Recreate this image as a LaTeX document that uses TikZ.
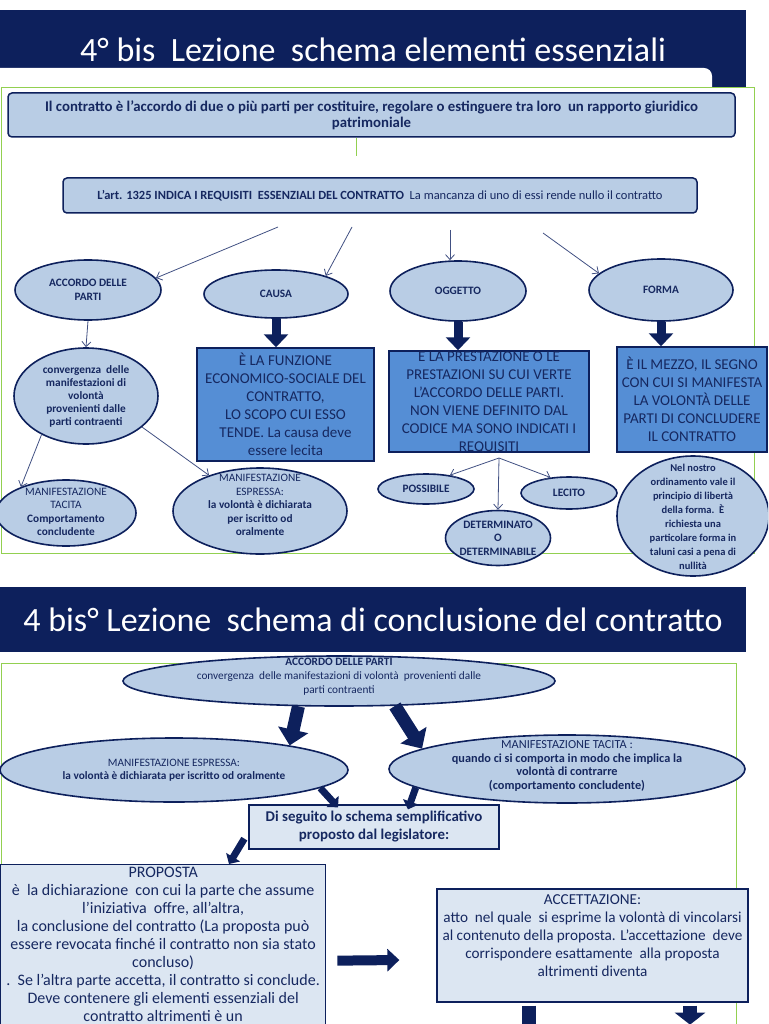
\documentclass[tikz,border=0pt]{standalone}
\usepackage{fontspec}
\setmainfont{Carlito}
\usetikzlibrary{shapes.geometric,arrows.meta,positioning}
\definecolor{navy}{RGB}{13,32,92}
\definecolor{txt}{RGB}{22,40,96}
\definecolor{pale}{RGB}{185,205,229}
\definecolor{paler}{RGB}{220,230,242}
\definecolor{midblue}{RGB}{85,142,213}
\definecolor{frame}{RGB}{146,208,80}
\definecolor{arrowgray}{RGB}{65,80,130}

\begin{document}
\begin{tikzpicture}[x=1pt,y=-1pt,
  heading/.style={text=white,inner sep=0pt,font=\fontsize{34}{40}\selectfont},
  lightbox/.style={draw=navy,line width=1.5pt,fill=pale,rounded corners=4pt,text=txt,align=center,inner sep=0pt},
  boxtext/.style={text=txt,align=center,inner sep=0pt,font=\fontsize{15}{18}\selectfont},
  darkbox/.style={boxtext,draw=navy,line width=1.5pt,fill=midblue},
  plainbox/.style={draw=navy,line width=1.3pt,fill=paler,text=txt,align=center,inner sep=0pt},
  plaintext/.style={text=txt,align=center,inner sep=0pt,font=\fontsize{15.2}{18}\selectfont},
  oval/.style={ellipse,draw=navy,line width=1.6pt,fill=pale,inner sep=0pt,text=txt,align=center,font=\fontsize{11.3}{13.5}\selectfont\bfseries},
  ovaltext/.style={text=txt,align=center,inner sep=0pt,font=\fontsize{11.3}{13.5}\selectfont\bfseries},
  thinarrow/.style={draw=arrowgray,line width=0.8pt,-{Straight Barb[length=5pt,width=9pt]}},
  blockarrow/.style n args={3}{draw=navy,line width=#1,-{Triangle[width=#2,length=#3]}},
]
  \useasboundingbox (0,0) rectangle (768,1024);
  \clip (0,0) rectangle (768,1024);

  \fill[navy] (0,10) rectangle (746,88);
  \fill[white,rounded corners=8pt] (-10,68) rectangle (712,110);
  \node[heading] (title1) at (373,50) {4° bis\ \ Lezione\ \ schema elementi essenziali};
  \draw[frame,line width=1pt] (1,88) rectangle (754,553);

  \node[lightbox,minimum width=727pt,minimum height=44pt,font=\fontsize{14.8}{16}\selectfont\bfseries] (def) at (371.5,115)
    {Il contratto è l’accordo di due o più parti per costituire, regolare o estinguere tra loro\ \ un rapporto giuridico\\patrimoniale};
  \draw[frame,line width=1pt] ([xshift=-15.5pt]def.south) -- ++(0,18);
  \node[lightbox,minimum width=634pt,minimum height=35pt,font=\fontsize{12.5}{14}\selectfont] (art) at (380,195.5)
    {\textbf{L’art. 1325 INDICA I REQUISITI\ \ ESSENZIALI DEL CONTRATTO}\ \ La mancanza di uno di essi rende nullo il contratto};

  \node[oval,minimum width=146pt,minimum height=60pt] (accordo) at (88,290) {ACCORDO DELLE\\PARTI};
  \node[oval,minimum width=144pt,minimum height=48pt] (causa) at (276,294) {CAUSA};
  \node[oval,minimum width=136pt,minimum height=60pt] (oggetto) at (458,291) {OGGETTO};
  \node[oval,minimum width=144pt,minimum height=62pt] (forma) at (661,290) {FORMA};

  \coordinate (p1) at (278,227);
  \coordinate (p2) at (352,227);
  \coordinate (p3) at (450,230);
  \coordinate (p4) at (543,233);
  \draw[thinarrow] (p1) -- (accordo.10);
  \draw[thinarrow] (p2) -- (causa.20);
  \draw[thinarrow] (p3) -- (p3 |- oggetto.north);
  \draw[thinarrow] (p4) -- (forma.165);

  \node[darkbox,minimum width=177pt,minimum height=113pt] (causabox) at (285.5,404.5)
    {È LA FUNZIONE\\ECONOMICO-SOCIALE DEL\\CONTRATTO,\\LO SCOPO CUI ESSO\\TENDE. La causa deve\\essere lecita};
  \node[darkbox,minimum width=200pt,minimum height=101pt] (oggbox) at (489,401.5) {};
  \node[boxtext] (oggboxT) at (489,403)
    {E LA PRESTAZIONE O LE\\PRESTAZIONI SU CUI VERTE\\L’ACCORDO DELLE PARTI.\\NON VIENE DEFINITO DAL\\CODICE MA SONO INDICATI I\\REQUISITI};
  \node[darkbox,minimum width=150pt,minimum height=105pt] (formabox) at (692,399.5)
    {È IL MEZZO, IL SEGNO\\CON CUI SI MANIFESTA\\LA VOLONTÀ DELLE\\PARTI DI CONCLUDERE\\IL CONTRATTO};

  \foreach \src/\dst in {causa/causabox, oggetto/oggbox, forma/formabox}
    \draw[blockarrow={9pt}{24pt}{13pt}] (\src.south) -- (\src.south |- \dst.north);

  \node[oval,minimum width=144pt,minimum height=96pt,font=\fontsize{11.3}{13}\selectfont\bfseries] (conv) at (86,396)
    {convergenza\ \ delle\\manifestazioni di\\volontà\\provenienti dalle\\parti contraenti};
  \draw[thinarrow] (accordo.south) -- (conv.north);

  \node[oval,minimum width=140pt,minimum height=66pt] (tacita) at (66,513) {};
  \node[ovaltext] (tacitaT) at (66,512) {{\mdseries MANIFESTAZIONE}\\{\mdseries TACITA}\\Comportamento\\concludente};
  \node[oval,minimum width=174pt,minimum height=86pt] (espressa) at (260,511) {};
  \node[ovaltext] (espressaT) at (260,505) {{\mdseries MANIFESTAZIONE}\\{\mdseries ESPRESSA:}\\la volontà è dichiarata\\per iscritto od\\oralmente};
  \draw[thinarrow] (conv.221) -- (tacita.150);
  \draw[thinarrow] (conv.-29) -- (espressa.145);

  \node[oval,minimum width=96pt,minimum height=30pt] (possibile) at (426,489) {POSSIBILE};
  \node[oval,minimum width=96pt,minimum height=32pt] (lecito) at (569,493) {LECITO};
  \node[oval,minimum width=105pt,minimum height=55pt] (determ) at (498,538) {};
  \node[ovaltext] (determT) at (498,538) {DETERMINATO\\O\\DETERMINABILE};
  \coordinate (fan) at (499,458);
  \foreach \t in {possibile.30, determ.north, lecito.140}
    \draw[thinarrow] (fan) -- (\t);

  \node[oval,minimum width=152pt,minimum height=120pt] (liberta) at (693,516) {};
  \node[ovaltext,font=\fontsize{10.5}{14}\selectfont\bfseries] (libertaT) at (693,517)
    {Nel nostro\\ordinamento vale il\\principio di libertà\\della forma.\ \ È\\richiesta una\\particolare forma in\\taluni casi a pena di\\nullità};

  \fill[navy] (0,587) rectangle (746,652);
  \node[heading] (title2) at (373,620) {4 bis° Lezione\ \ schema di conclusione del contratto};
  \draw[frame,line width=1pt] (1,1030) -- (1,663) -- (736,663) -- (736,1030);

  \node[oval,minimum width=432pt,minimum height=50pt] (accordo2) at (339,681) {};
  \node[ovaltext,font=\fontsize{11.3}{14}\selectfont\bfseries] (accordo2T) at (339,677)
    {ACCORDO DELLE PARTI\\{\mdseries convergenza\ \ delle manifestazioni di volontà\ \ provenienti dalle}\\{\mdseries parti contraenti}};
  \node[oval,minimum width=348pt,minimum height=64pt] (espressa2) at (174,770)
    {{\mdseries MANIFESTAZIONE ESPRESSA:}\\la volontà è dichiarata per iscritto od oralmente};
  \node[oval,minimum width=356pt,minimum height=68pt] (tacita2) at (567,769) {};
  \node[ovaltext,font=\fontsize{12.3}{13.5}\selectfont\bfseries] (tacita2T) at (567,766)
    {{\mdseries MANIFESTAZIONE TACITA :}\\quando ci si comporta in modo che implica la\\volontà di contrarre\\(comportamento concludente)};
  \draw[blockarrow={13pt}{30pt}{16pt}] (accordo2.212) -- (espressa2.12);
  \draw[blockarrow={13pt}{30pt}{16pt}] (accordo2.-24) -- (tacita2.172);

  \node[plainbox,minimum width=250pt,minimum height=44pt,font=\fontsize{14.9}{18}\selectfont\bfseries] (seguito) at (374,827)
    {Di seguito lo schema semplificativo\\proposto dal legislatore:};
  \draw[blockarrow={7pt}{16pt}{8pt}] (espressa2.-7) -- ([xshift=-36pt,yshift=-3pt]seguito.north);
  \draw[blockarrow={7pt}{16pt}{8pt}] (tacita2.187) -- ([xshift=34pt,yshift=-5pt]seguito.north);

  \node[plainbox,minimum width=325pt,minimum height=170pt,anchor=north west] (proposta) at (0,864) {};
  \node[plaintext,anchor=north,font=\fontsize{16}{18}\selectfont] (propostaT) at ([yshift=-3pt]proposta.north)
    {PROPOSTA\\è\ \ la dichiarazione\ \ con cui la parte che assume\\l’iniziativa\ \ offre, all’altra,\\la conclusione del contratto (La proposta può\\essere revocata finché il contratto non sia stato\\concluso)\\.\ \ Se l’altra parte accetta, il contratto si conclude.\\Deve contenere gli elementi essenziali del\\contratto altrimenti è un};
  \draw[blockarrow={7pt}{16pt}{8pt}] ([xshift=-4pt,yshift=11pt]seguito.south west) -- ([xshift=229pt]proposta.north west);

  \node[plainbox,minimum width=311pt,minimum height=113pt] (accett) at (592.5,945.5) {};
  \node[plaintext,anchor=north] (accettT) at ([yshift=-6pt]accett.north)
    {ACCETTAZIONE:\\atto\ \ nel quale\ \ si esprime la volontà di vincolarsi\\al contenuto della proposta. L’accettazione\ \ deve\\corrispondere esattamente\ \ alla proposta\\altrimenti diventa};
  \draw[blockarrow={10pt}{22pt}{12pt}] ([shift={(11pt,-11pt)}]proposta.east) -- ([shift={(-37pt,-14.5pt)}]accett.west);
  \draw[blockarrow={14pt}{30pt}{12pt}] ([xshift=-63.5pt,yshift=-3pt]accett.south) -- ++(0,40);
  \draw[blockarrow={14pt}{30pt}{12pt}] ([xshift=97.5pt,yshift=-3pt]accett.south) -- ++(0,19);
\end{tikzpicture}
\end{document}
